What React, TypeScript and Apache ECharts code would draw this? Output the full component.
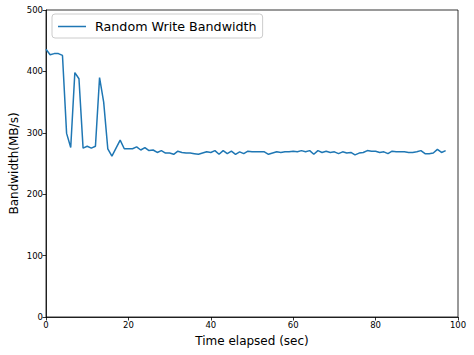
import React, { useEffect, useRef } from "react";
import * as echarts from "echarts";

const seconds: number[] = [
  0, 1, 2, 3, 4, 5, 6, 7, 8, 9, 10, 11, 12, 13, 14, 15, 16, 17, 18, 19,
  20, 21, 22, 23, 24, 25, 26, 27, 28, 29, 30, 31, 32, 33, 34, 35, 36, 37, 38, 39,
  40, 41, 42, 43, 44, 45, 46, 47, 48, 49, 50, 51, 52, 53, 54, 55, 56, 57, 58, 59,
  60, 61, 62, 63, 64, 65, 66, 67, 68, 69, 70, 71, 72, 73, 74, 75, 76, 77, 78, 79,
  80, 81, 82, 83, 84, 85, 86, 87, 88, 89, 90, 91, 92, 93, 94, 95, 96, 97,
];

const bandwidth: number[] = [
  436, 427, 429, 429, 426, 299, 276, 398, 388, 275, 278, 275, 278, 390, 350, 274, 262, 275, 288, 274,
  274, 274, 277, 272, 276, 271, 272, 268, 271, 267, 267, 265, 270, 268, 267, 267, 266, 265, 267, 269,
  268, 271, 265, 271, 266, 270, 265, 269, 266, 270, 269, 269, 269, 269, 265, 267, 269, 268, 269, 269,
  270, 269, 271, 269, 271, 265, 271, 268, 270, 268, 269, 266, 269, 267, 268, 264, 267, 268, 271, 270,
  270, 268, 269, 266, 270, 269, 269, 269, 268, 268, 269, 271, 266, 266, 267, 273, 268, 271,
];

const xTicks = { min: 0, max: 100, interval: 20 };
const yTicks = { min: 0, max: 500, interval: 100 };

const seriesName = "Random Write Bandwidth";
const xLabel = "Time elapsed (sec)";
const yLabel = "Bandwidth(MB/s)";

const FONT = "DejaVu Sans";

export default function App() {
  const ref = useRef<HTMLDivElement>(null);
  useEffect(() => {
    if (!ref.current) return;
    const chart = echarts.init(ref.current, undefined, { renderer: "svg" });
    const axisCommon = {
      axisLine: { show: true, lineStyle: { color: "#000", width: 0.8 } },
      axisTick: { show: true, length: 3.5, lineStyle: { color: "#000", width: 0.8 } },
      splitLine: { show: false },
      axisLabel: { color: "#000", fontFamily: FONT, fontSize: 8.5, margin: 3 },
      nameTextStyle: { color: "#000", fontFamily: FONT, fontSize: 12 },
      nameLocation: "middle" as const,
      nameMoveOverlap: false,
    };
    chart.setOption({
      animation: false,
      backgroundColor: "#fff",
      grid: {
        left: 46,
        right: 16,
        top: 10,
        bottom: 38,
        containLabel: false,
        outerBoundsMode: "none",
        show: true,
        borderColor: "#000",
        borderWidth: 0.8,
      },
      legend: {
        show: true,
        left: 52,
        top: 14,
        orient: "vertical",
        padding: [6, 6, 5, 6],
        borderColor: "#cccccc",
        borderWidth: 1,
        borderRadius: 3,
        itemWidth: 28,
        itemHeight: 10,
        itemGap: 8,
        textStyle: { color: "#000", fontFamily: FONT, fontSize: 12.7, padding: [0, 0, 0, 4] },
        data: [{ name: seriesName, icon: "path://M0,5 L28,5 L28,6.5 L0,6.5 Z" }],
      },
      xAxis: {
        type: "value",
        ...axisCommon,
        min: xTicks.min,
        max: xTicks.max,
        interval: xTicks.interval,
        name: xLabel,
        nameGap: 18,
      },
      yAxis: {
        type: "value",
        ...axisCommon,
        min: yTicks.min,
        max: yTicks.max,
        interval: yTicks.interval,
        name: yLabel,
        nameGap: 26,
        nameRotate: 90,
      },
      series: [
        {
          name: seriesName,
          type: "line",
          data: seconds.map((s, i) => [s, bandwidth[i]]),
          symbol: "none",
          showSymbol: false,
          color: "#1f77b4",
          lineStyle: { color: "#1f77b4", width: 1.5 },
        },
      ],
    });
    return () => chart.dispose();
  }, []);
  return (
    <div
      ref={ref}
      style={{ position: "fixed", left: 0, top: 0, width: 474, height: 355, background: "#fff" }}
    />
  );
}
